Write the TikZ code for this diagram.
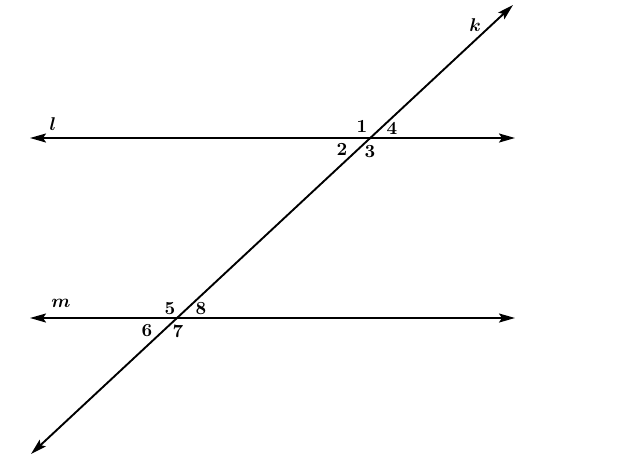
\documentclass[tikz,border=0pt]{standalone}
\usepackage{graphicx}
\usepackage{amsmath,bm}
\usetikzlibrary{arrows.meta}
\newcommand{\biglab}[1]{\scalebox{1.85}{$\bm{#1}$}}
\begin{document}
\begin{tikzpicture}[x=1pt,y=-1pt,
  ln/.style={line width=1.9pt,{Stealth[length=16pt,width=9pt,inset=3pt]}-{Stealth[length=16pt,width=9pt,inset=3pt]}},
  lab/.style={inner sep=0pt}]
\useasboundingbox[fill=white] (0,0) rectangle (623,461);
\coordinate (lA) at (30,138);
\coordinate (lB) at (515,138);
\coordinate (mA) at (30,318);
\coordinate (mB) at (515,318);
\coordinate (kA) at (31,454);
\coordinate (kB) at (513,5);
\draw[ln] (lA) -- (lB);
\draw[ln] (mA) -- (mB);
\draw[ln] (kA) -- (kB);
\node[lab] (tl) at (53,124) {\biglab{l}};
\node[lab] (tk) at (475,25) {\biglab{k}};
\node[lab] (tm) at (61,303) {\biglab{m}};
\node[lab] (n1) at (362,127) {\biglab{1}};
\node[lab] (n4) at (392,129) {\biglab{4}};
\node[lab] (n2) at (342,150) {\biglab{2}};
\node[lab] (n3) at (370,152) {\biglab{3}};
\node[lab] (n5) at (170,309) {\biglab{5}};
\node[lab] (n8) at (201,309) {\biglab{8}};
\node[lab] (n6) at (147,331) {\biglab{6}};
\node[lab] (n7) at (178,332) {\biglab{7}};
\end{tikzpicture}
\end{document}
